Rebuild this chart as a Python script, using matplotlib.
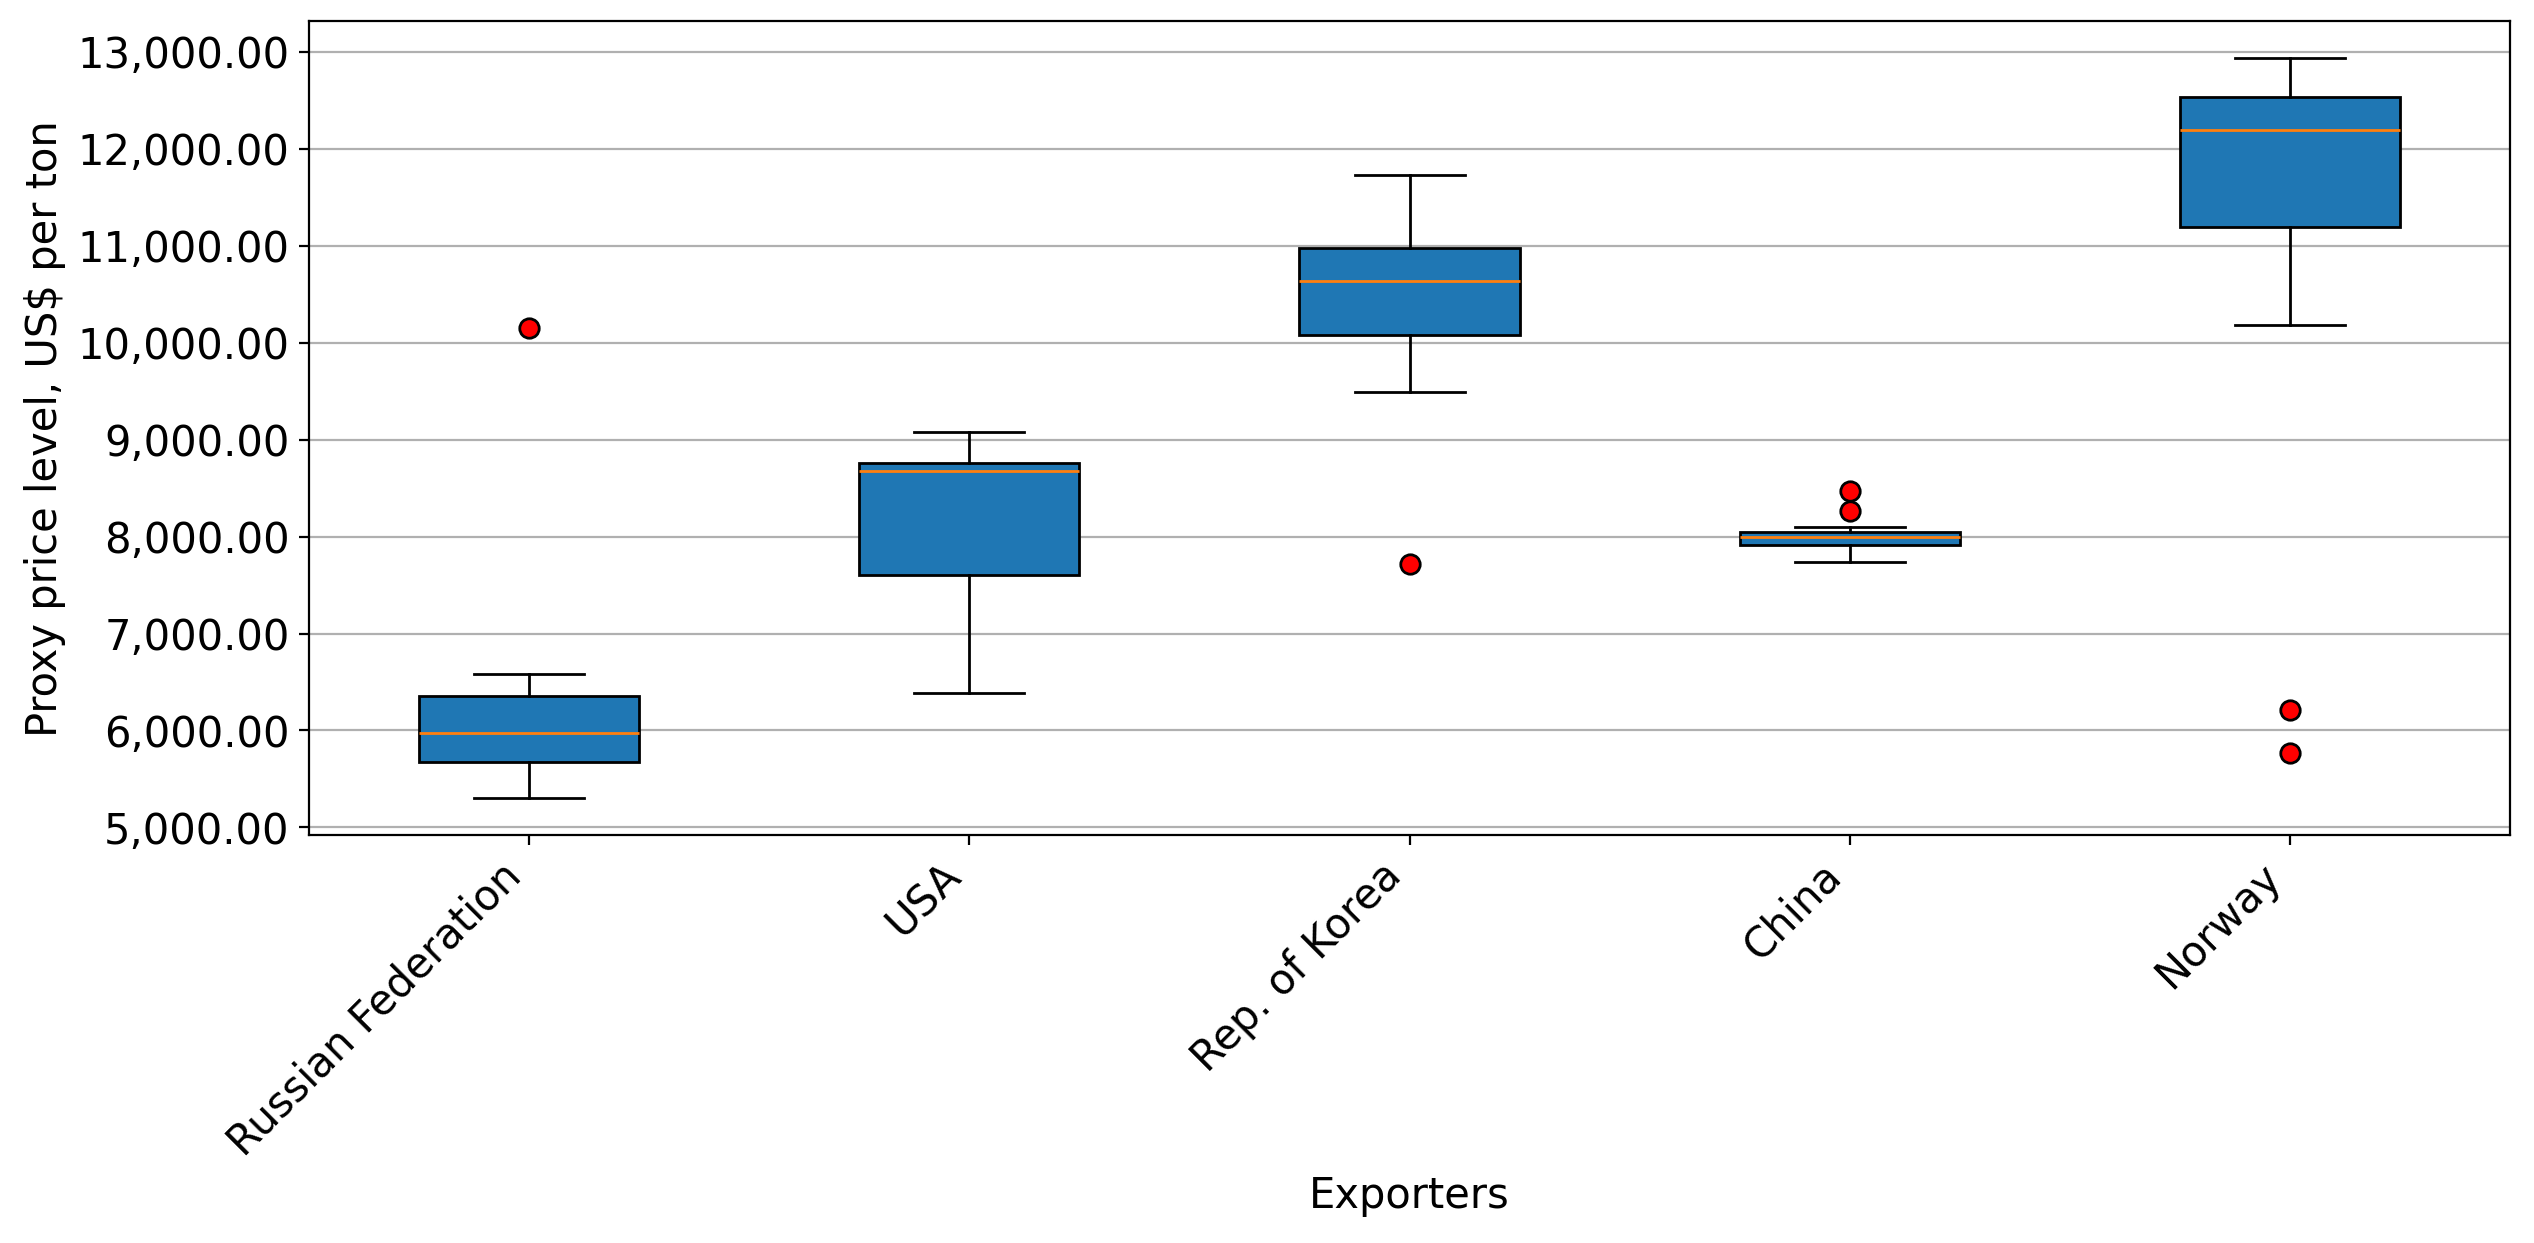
import numpy as np
import matplotlib
matplotlib.use('Agg')
import matplotlib.pyplot as plt
import matplotlib.ticker as mticker

exporters = ['Russian Federation', 'USA', 'Rep. of Korea', 'China', 'Norway']
whislo = [5301, 6383, 9488, 7737, 10185]
q1 = [5680, 7603, 10079, 7916, 11194]
med = [5970, 8674, 10636, 7994, 12197]
q3 = [6360, 8763, 10976, 8044, 12537]
whishi = [6583, 9075, 11729, 8100, 12933]
fliers = [[10146], [], [7715], [8468, 8261], [6210, 5764]]

stats = []
for i in range(len(exporters)):
    stats.append({'label': exporters[i], 'whislo': whislo[i], 'q1': q1[i],
                  'med': med[i], 'q3': q3[i], 'whishi': whishi[i],
                  'fliers': fliers[i]})

fig, ax = plt.subplots(figsize=(12.67, 6.215), dpi=200)
fig.subplots_adjust(left=0.122, right=0.9905, top=0.983, bottom=0.328)

ax.bxp(stats, widths=0.5, patch_artist=True,
       boxprops=dict(facecolor='#1f77b4', edgecolor='black'),
       medianprops=dict(color='#ff7f0e', linewidth=1.0),
       flierprops=dict(marker='o', markersize=7, markerfacecolor='red', markeredgecolor='black'))

ax.yaxis.grid(True)
ax.yaxis.set_major_formatter(mticker.StrMethodFormatter('{x:,.2f}'))
plt.xticks(rotation=45, ha='right', fontsize=15)
plt.yticks(fontsize=15)
ax.set_xlabel('Exporters', fontsize=15)
ax.set_ylabel('Proxy price level, US$ per ton', fontsize=15)

fig.savefig('out.png', dpi=200)
